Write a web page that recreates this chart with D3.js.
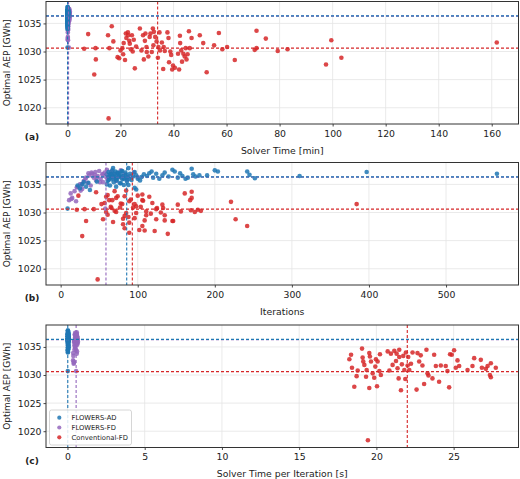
<!DOCTYPE html>
<html><head><meta charset="utf-8">
<script src="https://cdn.jsdelivr.net/npm/d3@7"></script>
<style>body{margin:0;background:#fff}svg{display:block}</style>
</head><body><svg id="chart" width="520" height="479"></svg>
<script>
// ---------------- DATA ----------------
const seriesNames = ["FLOWERS-AD", "FLOWERS-FD", "Conventional-FD"];
const seriesColors = ["#1f77b4", "#9467bd", "#d62728"];
const panelLabels = ["(a)", "(b)", "(c)"];
const xLabels = ["Solver Time [min]", "Iterations", "Solver Time per Iteration [s]"];
const yLabel = "Optimal AEP [GWh]";
const yTicks = [1020, 1025, 1030, 1035];
const xTicksA = [0, 20, 40, 60, 80, 100, 120, 140, 160];
const xTicksB = [0, 100, 200, 300, 400, 500];
const xTicksC = [0, 5, 10, 15, 20, 25];

// reference lines (AD, FD, Conventional)
const refAEP = [1036.35, 1036.3, 1030.6];
const refTime = [0.03, 0.4, 34.0];
const refIter = [85.7, 58.8, 93.0];
const refTPI = [0.02, 0.56, 22.0];

// FLOWERS-AD runs
const adAEP = [1030.7,1034.8,1034.3,1035.0,1034.6,1035.3,1034.0,1035.8,1036.2,1035.5,
  1036.8,1037.9,1036.4,1035.9,1037.1,1036.5,1035.2,1037.4,1036.0,1036.8,
  1035.6,1037.2,1036.3,1034.8,1036.9,1035.9,1037.5,1036.4,1035.4,1036.9,
  1037.3,1036.1,1035.7,1036.6,1037.0,1036.3,1035.2,1036.8,1037.4,1035.9,
  1036.5,1034.9,1036.1,1037.1,1036.7,1035.5,1036.3,1037.9,1036.0,1036.9,
  1035.8,1036.4,1037.2,1036.6,1036.0,1035.7,1036.3,1036.8,1036.5,1037.0,
  1037.3,1036.2,1036.9,1036.0,1036.6,1037.1,1036.4,1037.6,1037.3,1036.2,
  1037.0,1036.5,1036.0,1036.2,1037.8,1036.8,1036.4,1036.6,1036.6,1037.5,
  1037.3,1037.3,1036.7,1036.1,1036.5,1037.2,1036.9,
  1035.4,1034.6,1034.4,1034.1,1035.0,1034.9];
const adIter = [9,22,25,28,33,36,38,62,64,47,
  66,68,70,72,74,76,78,80,82,60,
  61,62,63,64,65,66,67,68,69,70,
  71,72,73,74,75,76,77,78,79,80,
  81,82,83,84,85,86,87,88,89,90,
  92,94,96,98,100,103,105,108,112,115,
  118,120,124,128,132,135,140,145,148,152,
  155,158,162,165,170,172,175,180,190,200,
  204,242,245,252,310,397,566,
  30,72,96,98,60,88];
const adTime = [0.01,0.02,0.02,0.03,0.03,0.03,0.02,0.04,0.03,0.04,
  0.04,0.03,0.05,0.04,0.04,0.05,0.04,0.05,0.05,0.04,
  0.05,0.05,0.06,0.04,0.05,0.06,0.05,0.06,0.05,0.06,
  0.06,0.05,0.06,0.07,0.06,0.06,0.05,0.07,0.06,0.07,
  0.07,0.06,0.07,0.07,0.08,0.07,0.07,0.08,0.07,0.08,
  0.08,0.08,0.09,0.08,0.09,0.09,0.09,0.10,0.10,0.10,
  0.11,0.10,0.11,0.12,0.12,0.12,0.13,0.13,0.14,0.14,
  0.14,0.15,0.15,0.16,0.16,0.17,0.17,0.18,0.19,0.20,
  0.21,0.25,0.25,0.26,0.33,0.42,0.60,
  0.03,0.06,0.08,0.09,0.05,0.07];
const adTPI = [0.02,0.03,0.02,0.04,0.03,0.05,0.02,0.04,0.03,0.05,
  0.04,0.03,0.06,0.04,0.02,0.05,0.03,0.04,0.06,0.03,
  0.05,0.02,0.04,0.06,0.03,0.05,0.04,0.02,0.05,0.03,
  0.06,0.04,0.03,0.05,0.02,0.04,0.06,0.03,0.05,0.04,
  0.02,0.05,0.03,0.04,0.06,0.03,0.05,0.02,0.04,0.05,
  0.03,0.06,0.04,0.02,0.05,0.03,0.04,0.06,0.03,0.05,
  0.02,0.04,0.05,0.03,0.06,0.04,0.02,0.05,0.03,0.04,
  0.06,0.03,0.05,0.02,0.04,0.05,0.03,0.06,0.04,0.02,
  0.05,0.03,0.04,0.06,0.03,0.05,0.04,
  0.03,0.05,0.02,0.04,0.06,0.03];

// FLOWERS-FD runs
const fdAEP = [1032.2,1033.4,1032.6,1033.8,1034.5,1035.0,1034.2,1035.6,1036.0,1035.3,
  1036.6,1034.8,1036.9,1036.2,1037.2,1035.7,1036.5,1037.4,1036.0,1036.8,
  1035.4,1037.1,1036.3,1037.6,1035.9,1036.7,1037.3,1036.1,1036.9,1035.6,
  1037.0,1036.4,1037.5,1036.2,1036.8,1035.8,1036.5,1037.1,1036.3,1030.7,
  1032.0,1033.9,
  1036.2,1037.1,1036.2,1035.4,1036.8,1034.5,1035.05,1032.4,1037.0,1036.7];
const fdIter = [11,13,15,18,22,25,28,30,32,35,
  37,39,41,43,45,46,48,50,52,54,
  55,57,59,60,62,64,66,68,70,72,
  74,76,78,80,83,86,90,95,100,58,
  20,26,
  33,40,47,51,55,21,27,14,36,44];
const fdTime = [0.10,0.12,0.14,0.16,0.20,0.23,0.25,0.28,0.30,0.32,
  0.34,0.36,0.38,0.40,0.42,0.43,0.45,0.46,0.48,0.50,
  0.51,0.53,0.55,0.56,0.58,0.60,0.61,0.63,0.65,0.67,
  0.69,0.71,0.72,0.74,0.77,0.80,0.84,0.88,0.93,0.54,
  0.18,0.24,
  0.31,0.37,0.44,0.47,0.51,0.19,0.25,0.13,0.33,0.41];
const fdTPI = [0.42,0.38,0.36,0.60,0.55,0.48,0.62,0.52,0.58,0.45,
  0.64,0.50,0.57,0.61,0.47,0.66,0.53,0.59,0.44,0.56,
  0.63,0.49,0.55,0.60,0.68,0.51,0.57,0.46,0.62,0.54,
  0.58,0.65,0.50,0.56,0.61,0.43,0.59,0.52,0.67,0.56,
  0.40,0.37,
  0.54,0.61,0.48,0.57,0.63,0.45,0.52,0.41,0.59,0.50];

// Conventional-FD runs: [solver time min, AEP]
const convTimeA = [6.3,7.8,10.1,10.6,10.7,15.5,15.3,15.8,16.7,17.3,18.9,19.5,20.0,20.7,21.0,21.2,21.7,22.0,22.2,22.8,
  22.9,23.3,23.5,23.9,24.3,24.6,25.0,25.4,25.9,27.3,27.9,28.5,28.8,29.2,29.4,29.8,29.9,30.5,31.0,31.3,
  31.8,32.2,32.4,32.6,33.1,33.6,34.1,34.3,34.7,34.9,35.6,36.1,36.3,36.7,37.7,38.1,38.3,38.8,39.1,39.5,
  39.8,40.5,41.7,42.1,42.4,42.5,42.9,43.2,43.7,44.2,44.6,44.9,45.3,45.8,46.1,46.8,49.9,51.2,52.5,55.3,
  57.1,58.4,60.2,63.1,70.6,71.3,71.3,74.8,79.3,83.0,97.5,99.5,103.3,161.9];
const convAEPA = [1030.5,1033.1,1025.9,1030.6,1028.6,1018.1,1032.9,1030.6,1034.5,1031.8,1029.0,1028.8,1030.2,1030.6,1029.5,1031.5,1028.5,1033.2,1032.4,1033.4,
  1032.9,1031.9,1031.4,1030.4,1032.9,1030.0,1032.1,1027.0,1030.9,1034.1,1030.2,1032.9,1028.6,1031.9,1033.2,1030.8,1029.9,1029.1,1032.6,1033.2,
  1029.9,1034.1,1031.1,1033.5,1032.6,1031.8,1028.9,1030.8,1033.4,1030.2,1031.6,1026.9,1030.8,1030.1,1033.4,1032.4,1028.1,1030.0,1029.4,1026.8,
  1027.5,1027.1,1029.6,1026.8,1032.8,1031.5,1030.2,1028.2,1029.6,1029.1,1030.6,1028.6,1029.5,1033.6,1030.6,1032.4,1032.9,1031.5,1026.3,1031.1,
  1033.3,1030.4,1030.8,1028.5,1030.3,1030.6,1033.7,1032.3,1030.1,1030.4,1027.7,1032.0,1028.9,1031.6];

// Conventional-FD runs: [iterations, AEP]
const convIterB = [23,46,61,70,74,85,106,161,170,
  59,63,72,83,91,107,170,
  57,67,78,89,96,106,119,152,
  65,80,98,132,
  21,31,43,59,66,70,85,94,111,124,130,133,156,169,174,178,182,
  61,72,83,98,111,117,135,
  33,55,68,81,89,96,109,124,135,145,
  81,106,
  83,102,109,122,
  28,89,139,
  48,221,227,242,384,
  100,104,77,88,115,125,146,168,53];
const convAEPB = [1033.0,1033.6,1033.1,1033.8,1032.9,1033.9,1033.2,1033.4,1033.7,
  1032.8,1032.2,1032.6,1032.9,1032.3,1032.1,1032.6,
  1031.7,1032.2,1031.6,1032.0,1031.5,1032.2,1031.7,1031.4,
  1031.0,1031.5,1031.1,1031.4,
  1030.5,1030.6,1030.6,1030.1,1030.8,1030.3,1029.9,1030.9,1030.2,1030.6,1030.0,1030.8,1030.2,1030.4,1030.1,1030.5,1030.3,
  1029.6,1030.1,1029.4,1029.9,1029.5,1029.8,1029.5,
  1028.5,1028.8,1028.3,1028.9,1028.2,1029.0,1028.6,1028.8,1028.6,1028.5,
  1027.9,1027.6,
  1027.2,1026.9,1026.8,1026.7,
  1025.8,1026.4,1026.2,
  1018.1,1031.9,1028.8,1027.6,1031.5,
  1033.0,1031.0,1030.9,1029.2,1032.8,1030.8,1028.5,1032.2,1031.5];

// Conventional-FD runs: [time per iteration s, AEP]
const convTPIC = [19.07,18.36,18.25,18.42,18.57,18.72,18.79,19.11,19.15,19.22,19.33,19.37,19.54,19.58,19.54,19.65,19.76,19.86,19.93,19.97,
  20.04,20.08,20.19,20.23,20.29,19.45,20.73,20.84,20.94,21.05,21.16,21.27,21.31,21.37,21.44,21.48,21.48,21.59,21.65,21.74,
  21.81,21.87,21.91,22.02,22.06,22.13,22.24,22.34,22.60,22.66,22.77,22.87,22.98,23.09,23.24,23.31,23.37,23.63,23.74,23.85,
  24.06,24.17,24.49,24.60,24.71,24.77,24.88,25.03,25.14,25.25,25.36,25.90,26.22,26.33,26.76,26.83,27.09,27.20,27.35,27.41,
  27.41,27.73];
const convAEPC = [1034.7,1033.6,1032.8,1031.3,1027.9,1029.8,1030.8,1033.1,1032.4,1031.8,1029.7,1030.9,1033.9,1033.3,1027.7,1032.4,1030.3,1029.5,1031.5,1032.8,
  1028.0,1032.4,1030.7,1033.7,1030.0,1018.4,1034.2,1030.8,1033.8,1031.8,1034.3,1032.5,1033.8,1031.2,1029.4,1033.2,1034.5,1027.3,1031.9,1033.4,
  1030.9,1029.3,1034.0,1031.7,1033.2,1030.9,1032.0,1034.0,1027.4,1033.9,1032.4,1033.5,1031.7,1028.4,1034.5,1030.3,1029.9,1029.4,1033.6,1031.6,
  1028.8,1031.7,1031.6,1030.7,1027.8,1033.7,1033.6,1034.4,1031.3,1032.6,1031.6,1030.9,1031.6,1033.0,1032.7,1031.3,1031.1,1031.6,1030.0,1029.6,
  1032.1,1031.3];

// ---------------- LAYOUT ----------------
const W = 520, H = 479;
const left = 46, right = 518.5;
const panels = [
  {top: 1.5, bottom: 124, domain: [-8.1, 170.1], ticks: xTicksA,
   series: [[adTime, adAEP], [fdTime, fdAEP], [convTimeA, convAEPA]], vref: refTime},
  {top: 162.5, bottom: 285, domain: [-19, 594], ticks: xTicksB,
   series: [[adIter, adAEP], [fdIter, fdAEP], [convIterB, convAEPB]], vref: refIter},
  {top: 325, bottom: 447.5, domain: [-1.39, 29.2], ticks: xTicksC,
   series: [[adTPI, adAEP], [fdTPI, fdAEP], [convTPIC, convAEPC]], vref: refTPI}
];
const yDomain = [1017.1, 1038.9];
const font = "DejaVu Sans, sans-serif";

const svg = d3.select("#chart");
svg.append("rect").attr("width", W).attr("height", H).attr("fill", "#fff");

panels.forEach((p, pi) => {
  const x = d3.scaleLinear().domain(p.domain).range([left, right]);
  const y = d3.scaleLinear().domain(yDomain).range([p.bottom, p.top]);
  const g = svg.append("g");

  // grid
  g.append("g").selectAll("line").data(p.ticks).join("line")
    .attr("x1", d => x(d)).attr("x2", d => x(d)).attr("y1", p.top).attr("y2", p.bottom)
    .attr("stroke", "#e4e4e4").attr("stroke-width", 0.8);
  g.append("g").selectAll("line").data(yTicks).join("line")
    .attr("x1", left).attr("x2", right).attr("y1", d => y(d)).attr("y2", d => y(d))
    .attr("stroke", "#e4e4e4").attr("stroke-width", 0.8);

  // points: conventional, FD, AD (AD on top)
  [2, 1, 0].forEach(si => {
    const [xs, ys] = p.series[si];
    g.append("g").selectAll("circle").data(xs.map((v, i) => [v, ys[i]])).join("circle")
      .attr("cx", d => x(d[0])).attr("cy", d => y(d[1])).attr("r", 2.3)
      .attr("fill", seriesColors[si]).attr("fill-opacity", 0.85);
  });

  // reference lines
  [1, 2, 0].forEach(si => {
    g.append("line").attr("x1", left).attr("x2", right)
      .attr("y1", y(refAEP[si])).attr("y2", y(refAEP[si]))
      .attr("stroke", seriesColors[si]).attr("stroke-width", 1.1).attr("stroke-dasharray", "3,2");
    g.append("line").attr("x1", x(p.vref[si])).attr("x2", x(p.vref[si]))
      .attr("y1", p.top).attr("y2", p.bottom)
      .attr("stroke", seriesColors[si]).attr("stroke-width", 1.1).attr("stroke-dasharray", "3,2");
  });

  // axes
  const xAxis = d3.axisBottom(x).tickValues(p.ticks).tickSize(2.5).tickPadding(3.5).tickFormat(d3.format("d"));
  const xa = g.append("g").attr("transform", `translate(0,${p.bottom})`).call(xAxis);
  const yAxis = d3.axisLeft(y).tickValues(yTicks).tickSize(2.5).tickPadding(2).tickFormat(d3.format("d"));
  const ya = g.append("g").attr("transform", `translate(${left},0)`).call(yAxis);
  [xa, ya].forEach(a => {
    a.select(".domain").remove();
    a.selectAll(".tick line").attr("stroke", "#333").attr("stroke-width", 0.9);
    a.selectAll("text").attr("font-family", font).attr("font-size", 9.3).attr("fill", "#222");
  });

  // frame
  g.append("rect").attr("x", left).attr("y", p.top).attr("width", right - left).attr("height", p.bottom - p.top)
    .attr("fill", "none").attr("stroke", "#333").attr("stroke-width", 1);

  // labels
  g.append("text").attr("x", 32).attr("y", p.bottom + 16).attr("text-anchor", "middle")
    .attr("font-family", font).attr("font-size", 9).attr("font-weight", "bold").attr("fill", "#222")
    .text(panelLabels[pi]);
  g.append("text").attr("x", (left + right) / 2).attr("y", p.bottom + 29.5).attr("text-anchor", "middle")
    .attr("font-family", font).attr("font-size", 9.3).attr("fill", "#222").text(xLabels[pi]);
  g.append("text").attr("transform", `translate(9.5,${(p.top + p.bottom) / 2}) rotate(-90)`)
    .attr("text-anchor", "middle").attr("font-family", font).attr("font-size", 9).attr("fill", "#222")
    .text(yLabel);

  // legend in panel (c)
  if (pi === 2) {
    const lg = g.append("g");
    lg.append("rect").attr("x", 49.5).attr("y", 410).attr("width", 82).attr("height", 35).attr("rx", 2)
      .attr("fill", "#fff").attr("fill-opacity", 0.85).attr("stroke", "#ccc").attr("stroke-width", 0.8);
    seriesNames.forEach((name, i) => {
      const cy = 417.7 + i * 9.8;
      lg.append("circle").attr("cx", 59.3).attr("cy", cy).attr("r", 2.1)
        .attr("fill", seriesColors[i]).attr("fill-opacity", 0.85);
      lg.append("text").attr("x", 71.5).attr("y", cy).attr("dy", "0.35em")
        .attr("font-family", font).attr("font-size", 6.8).attr("fill", "#222").text(name);
    });
  }
});
</script>
</body></html>
